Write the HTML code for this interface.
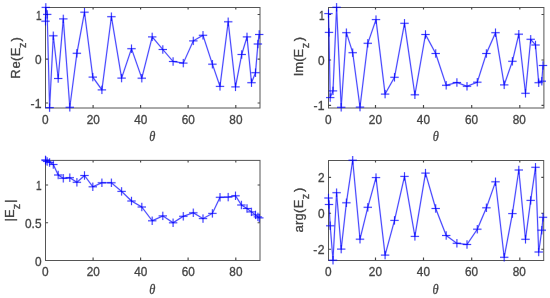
<!DOCTYPE html>
<html><head><meta charset="utf-8"><title>E_z plots</title>
<style>
html,body{margin:0;padding:0;background:#fff;}
svg{display:block;}
text{font-family:"Liberation Sans",sans-serif;font-size:12.2px;fill:#444444;stroke:#444444;stroke-width:0.32px;}
text.yl{font-size:13px;stroke-width:0.32px;}
text.yl .sub{font-size:11px;}
text.th{font-family:"Liberation Serif","DejaVu Serif",serif;font-style:italic;font-size:13.8px;stroke-width:0.28px;}
</style></head>
<body>
<svg width="550" height="298" viewBox="0 0 550 298">
<rect x="0" y="0" width="550" height="298" fill="#fff"/>
<rect x="45.5" y="7.5" width="214.5" height="100.5" fill="#fff" stroke="#555555" stroke-width="1"/>
<path d="M93.1 108.0v-3M93.1 7.5v2.1M140.6 108.0v-3M140.6 7.5v2.1M188.1 108.0v-3M188.1 7.5v2.1M235.8 108.0v-3M235.8 7.5v2.1M45.5 14.5h2.6M260.0 14.5h-2.4M45.5 59.1h2.6M260.0 59.1h-2.4M45.5 103.0h2.6M260.0 103.0h-2.4" stroke="#484848" stroke-width="1.15" fill="none"/>
<text x="45.2" y="123.5" text-anchor="middle" textLength="6.6" lengthAdjust="spacingAndGlyphs">0</text>
<text x="93.2" y="123.5" text-anchor="middle" textLength="13.1" lengthAdjust="spacingAndGlyphs">20</text>
<text x="140.7" y="123.5" text-anchor="middle" textLength="13.1" lengthAdjust="spacingAndGlyphs">40</text>
<text x="188.2" y="123.5" text-anchor="middle" textLength="13.1" lengthAdjust="spacingAndGlyphs">60</text>
<text x="235.9" y="123.5" text-anchor="middle" textLength="13.1" lengthAdjust="spacingAndGlyphs">80</text>
<text x="41.5" y="19.5" text-anchor="end" textLength="5.6" lengthAdjust="spacingAndGlyphs">1</text>
<text x="41.5" y="63.7" text-anchor="end" textLength="6.6" lengthAdjust="spacingAndGlyphs">0</text>
<text x="41.5" y="107.7" text-anchor="end" textLength="11.0" lengthAdjust="spacing">-1</text>
<text class="th" transform="translate(152.2,141.2) scale(0.9,1)" text-anchor="middle">θ</text>
<polyline points="45.5,21.2 45.8,7.4 47.2,14.4 49.6,107.6 53.3,35.8 58.2,78.5 63.3,18.9 69.8,107.3 76.9,53.3 84.5,12.2 92.8,77.1 101.9,89.9 111.4,16.7 121.6,78.1 131.5,48.7 141.8,78.2 152.2,36.9 162.8,49.5 173.1,61.5 183.3,63.1 193.3,40.9 203.0,35.3 212.4,64.2 220.0,86.4 228.2,21.8 235.5,86.9 241.7,54.5 247.0,36.9 251.5,82.7 255.5,72.7 257.9,44.0 259.2,34.5" fill="none" stroke="#00f" stroke-opacity="0.15" stroke-width="1.9" stroke-linejoin="round"/>
<polyline points="45.5,21.2 45.8,7.4 47.2,14.4 49.6,107.6 53.3,35.8 58.2,78.5 63.3,18.9 69.8,107.3 76.9,53.3 84.5,12.2 92.8,77.1 101.9,89.9 111.4,16.7 121.6,78.1 131.5,48.7 141.8,78.2 152.2,36.9 162.8,49.5 173.1,61.5 183.3,63.1 193.3,40.9 203.0,35.3 212.4,64.2 220.0,86.4 228.2,21.8 235.5,86.9 241.7,54.5 247.0,36.9 251.5,82.7 255.5,72.7 257.9,44.0 259.2,34.5" fill="none" stroke="#00f" stroke-opacity="0.68" stroke-width="1.05" stroke-linejoin="round"/>
<path d="M41.3 21.2h8.4M45.5 17.0v8.4M41.6 7.4h8.4M45.8 3.2v8.4M43.0 14.4h8.4M47.2 10.2v8.4M45.4 107.6h8.4M49.6 103.4v8.4M49.1 35.8h8.4M53.3 31.6v8.4M54.0 78.5h8.4M58.2 74.3v8.4M59.1 18.9h8.4M63.3 14.7v8.4M65.6 107.3h8.4M69.8 103.1v8.4M72.7 53.3h8.4M76.9 49.1v8.4M80.3 12.2h8.4M84.5 8.0v8.4M88.6 77.1h8.4M92.8 72.9v8.4M97.7 89.9h8.4M101.9 85.7v8.4M107.2 16.7h8.4M111.4 12.5v8.4M117.4 78.1h8.4M121.6 73.9v8.4M127.3 48.7h8.4M131.5 44.5v8.4M137.6 78.2h8.4M141.8 74.0v8.4M148.0 36.9h8.4M152.2 32.7v8.4M158.6 49.5h8.4M162.8 45.3v8.4M168.9 61.5h8.4M173.1 57.3v8.4M179.1 63.1h8.4M183.3 58.9v8.4M189.1 40.9h8.4M193.3 36.7v8.4M198.8 35.3h8.4M203.0 31.1v8.4M208.2 64.2h8.4M212.4 60.0v8.4M215.8 86.4h8.4M220.0 82.2v8.4M224.0 21.8h8.4M228.2 17.6v8.4M231.3 86.9h8.4M235.5 82.7v8.4M237.5 54.5h8.4M241.7 50.3v8.4M242.8 36.9h8.4M247.0 32.7v8.4M247.3 82.7h8.4M251.5 78.5v8.4M251.3 72.7h8.4M255.5 68.5v8.4M253.7 44.0h8.4M257.9 39.8v8.4M255.0 34.5h8.4M259.2 30.3v8.4" stroke="#00f" stroke-opacity="0.15" stroke-width="1.9" fill="none"/>
<path d="M41.3 21.2h8.4M45.5 17.0v8.4M41.6 7.4h8.4M45.8 3.2v8.4M43.0 14.4h8.4M47.2 10.2v8.4M45.4 107.6h8.4M49.6 103.4v8.4M49.1 35.8h8.4M53.3 31.6v8.4M54.0 78.5h8.4M58.2 74.3v8.4M59.1 18.9h8.4M63.3 14.7v8.4M65.6 107.3h8.4M69.8 103.1v8.4M72.7 53.3h8.4M76.9 49.1v8.4M80.3 12.2h8.4M84.5 8.0v8.4M88.6 77.1h8.4M92.8 72.9v8.4M97.7 89.9h8.4M101.9 85.7v8.4M107.2 16.7h8.4M111.4 12.5v8.4M117.4 78.1h8.4M121.6 73.9v8.4M127.3 48.7h8.4M131.5 44.5v8.4M137.6 78.2h8.4M141.8 74.0v8.4M148.0 36.9h8.4M152.2 32.7v8.4M158.6 49.5h8.4M162.8 45.3v8.4M168.9 61.5h8.4M173.1 57.3v8.4M179.1 63.1h8.4M183.3 58.9v8.4M189.1 40.9h8.4M193.3 36.7v8.4M198.8 35.3h8.4M203.0 31.1v8.4M208.2 64.2h8.4M212.4 60.0v8.4M215.8 86.4h8.4M220.0 82.2v8.4M224.0 21.8h8.4M228.2 17.6v8.4M231.3 86.9h8.4M235.5 82.7v8.4M237.5 54.5h8.4M241.7 50.3v8.4M242.8 36.9h8.4M247.0 32.7v8.4M247.3 82.7h8.4M251.5 78.5v8.4M251.3 72.7h8.4M255.5 68.5v8.4M253.7 44.0h8.4M257.9 39.8v8.4M255.0 34.5h8.4M259.2 30.3v8.4" stroke="#00f" stroke-opacity="0.72" stroke-width="1.0" fill="none"/>
<text class="yl" dx="0 0.9 0.1 0.4" transform="translate(20.1,78.7) rotate(-90)">Re(E<tspan class="sub" dy="6.3" dx="-0.4">z</tspan><tspan dy="-6.3" dx="1.1">)</tspan></text>
<rect x="328.5" y="7.5" width="215.39999999999998" height="100.5" fill="#fff" stroke="#555555" stroke-width="1"/>
<path d="M375.5 108.0v-3M375.5 7.5v2.1M423.5 108.0v-3M423.5 7.5v2.1M471.7 108.0v-3M471.7 7.5v2.1M519.8 108.0v-3M519.8 7.5v2.1M328.5 14.5h2.6M543.9 14.5h-2.4M328.5 60.0h2.6M543.9 60.0h-2.4M328.5 105.3h2.6M543.9 105.3h-2.4" stroke="#484848" stroke-width="1.15" fill="none"/>
<text x="328.2" y="123.5" text-anchor="middle" textLength="6.6" lengthAdjust="spacingAndGlyphs">0</text>
<text x="375.4" y="123.5" text-anchor="middle" textLength="13.1" lengthAdjust="spacingAndGlyphs">20</text>
<text x="423.4" y="123.5" text-anchor="middle" textLength="13.1" lengthAdjust="spacingAndGlyphs">40</text>
<text x="471.5" y="123.5" text-anchor="middle" textLength="13.1" lengthAdjust="spacingAndGlyphs">60</text>
<text x="519.3" y="123.5" text-anchor="middle" textLength="13.1" lengthAdjust="spacingAndGlyphs">80</text>
<text x="324.5" y="19.5" text-anchor="end" textLength="5.6" lengthAdjust="spacingAndGlyphs">1</text>
<text x="324.5" y="65.0" text-anchor="end" textLength="6.6" lengthAdjust="spacingAndGlyphs">0</text>
<text x="324.5" y="109.7" text-anchor="end" textLength="11.0" lengthAdjust="spacing">-1</text>
<text class="th" transform="translate(435.7,141.2) scale(0.9,1)" text-anchor="middle">θ</text>
<polyline points="328.5,13.6 329.0,32.4 330.2,97.6 333.0,90.9 336.6,7.3 341.2,107.3 346.4,32.7 352.7,52.7 360.0,107.1 367.8,43.3 376.0,19.6 385.1,94.1 394.5,77.3 404.5,23.3 414.9,94.8 425.5,34.5 435.7,53.5 446.2,85.3 456.9,82.5 467.0,86.3 477.3,82.2 486.4,53.5 495.5,32.7 504.2,84.9 512.4,61.3 518.8,34.2 525.5,93.3 530.7,39.3 535.5,45.0 538.7,82.7 541.8,81.2 543.0,65.5" fill="none" stroke="#00f" stroke-opacity="0.15" stroke-width="1.9" stroke-linejoin="round"/>
<polyline points="328.5,13.6 329.0,32.4 330.2,97.6 333.0,90.9 336.6,7.3 341.2,107.3 346.4,32.7 352.7,52.7 360.0,107.1 367.8,43.3 376.0,19.6 385.1,94.1 394.5,77.3 404.5,23.3 414.9,94.8 425.5,34.5 435.7,53.5 446.2,85.3 456.9,82.5 467.0,86.3 477.3,82.2 486.4,53.5 495.5,32.7 504.2,84.9 512.4,61.3 518.8,34.2 525.5,93.3 530.7,39.3 535.5,45.0 538.7,82.7 541.8,81.2 543.0,65.5" fill="none" stroke="#00f" stroke-opacity="0.68" stroke-width="1.05" stroke-linejoin="round"/>
<path d="M324.3 13.6h8.4M328.5 9.4v8.4M324.8 32.4h8.4M329.0 28.2v8.4M326.0 97.6h8.4M330.2 93.4v8.4M328.8 90.9h8.4M333.0 86.7v8.4M332.4 7.3h8.4M336.6 3.1v8.4M337.0 107.3h8.4M341.2 103.1v8.4M342.2 32.7h8.4M346.4 28.5v8.4M348.5 52.7h8.4M352.7 48.5v8.4M355.8 107.1h8.4M360.0 102.9v8.4M363.6 43.3h8.4M367.8 39.1v8.4M371.8 19.6h8.4M376.0 15.4v8.4M380.9 94.1h8.4M385.1 89.9v8.4M390.3 77.3h8.4M394.5 73.1v8.4M400.3 23.3h8.4M404.5 19.1v8.4M410.7 94.8h8.4M414.9 90.6v8.4M421.3 34.5h8.4M425.5 30.3v8.4M431.5 53.5h8.4M435.7 49.3v8.4M442.0 85.3h8.4M446.2 81.1v8.4M452.7 82.5h8.4M456.9 78.3v8.4M462.8 86.3h8.4M467.0 82.1v8.4M473.1 82.2h8.4M477.3 78.0v8.4M482.2 53.5h8.4M486.4 49.3v8.4M491.3 32.7h8.4M495.5 28.5v8.4M500.0 84.9h8.4M504.2 80.7v8.4M508.2 61.3h8.4M512.4 57.1v8.4M514.6 34.2h8.4M518.8 30.0v8.4M521.3 93.3h8.4M525.5 89.1v8.4M526.5 39.3h8.4M530.7 35.1v8.4M531.3 45.0h8.4M535.5 40.8v8.4M534.5 82.7h8.4M538.7 78.5v8.4M537.6 81.2h8.4M541.8 77.0v8.4M538.8 65.5h8.4M543.0 61.3v8.4" stroke="#00f" stroke-opacity="0.15" stroke-width="1.9" fill="none"/>
<path d="M324.3 13.6h8.4M328.5 9.4v8.4M324.8 32.4h8.4M329.0 28.2v8.4M326.0 97.6h8.4M330.2 93.4v8.4M328.8 90.9h8.4M333.0 86.7v8.4M332.4 7.3h8.4M336.6 3.1v8.4M337.0 107.3h8.4M341.2 103.1v8.4M342.2 32.7h8.4M346.4 28.5v8.4M348.5 52.7h8.4M352.7 48.5v8.4M355.8 107.1h8.4M360.0 102.9v8.4M363.6 43.3h8.4M367.8 39.1v8.4M371.8 19.6h8.4M376.0 15.4v8.4M380.9 94.1h8.4M385.1 89.9v8.4M390.3 77.3h8.4M394.5 73.1v8.4M400.3 23.3h8.4M404.5 19.1v8.4M410.7 94.8h8.4M414.9 90.6v8.4M421.3 34.5h8.4M425.5 30.3v8.4M431.5 53.5h8.4M435.7 49.3v8.4M442.0 85.3h8.4M446.2 81.1v8.4M452.7 82.5h8.4M456.9 78.3v8.4M462.8 86.3h8.4M467.0 82.1v8.4M473.1 82.2h8.4M477.3 78.0v8.4M482.2 53.5h8.4M486.4 49.3v8.4M491.3 32.7h8.4M495.5 28.5v8.4M500.0 84.9h8.4M504.2 80.7v8.4M508.2 61.3h8.4M512.4 57.1v8.4M514.6 34.2h8.4M518.8 30.0v8.4M521.3 93.3h8.4M525.5 89.1v8.4M526.5 39.3h8.4M530.7 35.1v8.4M531.3 45.0h8.4M535.5 40.8v8.4M534.5 82.7h8.4M538.7 78.5v8.4M537.6 81.2h8.4M541.8 77.0v8.4M538.8 65.5h8.4M543.0 61.3v8.4" stroke="#00f" stroke-opacity="0.72" stroke-width="1.0" fill="none"/>
<text class="yl" transform="translate(303.1,76.3) rotate(-90)">Im(E<tspan class="sub" dy="6.3" dx="0.5">z</tspan><tspan dy="-6.3" dx="1.7">)</tspan></text>
<rect x="45.5" y="160.4" width="214.5" height="100.1" fill="#fff" stroke="#555555" stroke-width="1"/>
<path d="M93.1 260.5v-3M93.1 160.4v2.1M140.6 260.5v-3M140.6 160.4v2.1M188.1 260.5v-3M188.1 160.4v2.1M235.8 260.5v-3M235.8 160.4v2.1M45.5 185.0h2.6M260.0 185.0h-2.4M45.5 222.7h2.6M260.0 222.7h-2.4" stroke="#484848" stroke-width="1.15" fill="none"/>
<text x="45.2" y="276.4" text-anchor="middle" textLength="6.6" lengthAdjust="spacingAndGlyphs">0</text>
<text x="93.2" y="276.4" text-anchor="middle" textLength="13.1" lengthAdjust="spacingAndGlyphs">20</text>
<text x="140.7" y="276.4" text-anchor="middle" textLength="13.1" lengthAdjust="spacingAndGlyphs">40</text>
<text x="188.2" y="276.4" text-anchor="middle" textLength="13.1" lengthAdjust="spacingAndGlyphs">60</text>
<text x="235.9" y="276.4" text-anchor="middle" textLength="13.1" lengthAdjust="spacingAndGlyphs">80</text>
<text x="41.5" y="190.0" text-anchor="end" textLength="5.6" lengthAdjust="spacingAndGlyphs">1</text>
<text x="41.5" y="227.7" text-anchor="end" textLength="16.5" lengthAdjust="spacingAndGlyphs">0.5</text>
<text x="41.5" y="265.5" text-anchor="end" textLength="6.6" lengthAdjust="spacingAndGlyphs">0</text>
<text class="th" transform="translate(152.2,294.1) scale(0.9,1)" text-anchor="middle">θ</text>
<polyline points="45.5,159.9 45.8,160.6 47.2,161.5 49.6,162.5 53.3,164.5 58.2,175.0 63.3,178.3 69.8,177.7 76.9,182.3 84.5,175.5 92.8,186.8 101.9,182.8 111.4,182.8 121.6,191.4 131.5,201.0 141.8,207.0 152.2,220.8 162.8,215.9 173.1,222.8 183.3,216.3 193.3,212.8 203.0,218.6 212.4,213.4 220.0,197.3 228.2,197.1 235.5,195.8 241.4,205.0 247.0,208.5 251.4,211.9 255.5,214.9 257.9,216.9 259.3,217.9" fill="none" stroke="#00f" stroke-opacity="0.15" stroke-width="1.9" stroke-linejoin="round"/>
<polyline points="45.5,159.9 45.8,160.6 47.2,161.5 49.6,162.5 53.3,164.5 58.2,175.0 63.3,178.3 69.8,177.7 76.9,182.3 84.5,175.5 92.8,186.8 101.9,182.8 111.4,182.8 121.6,191.4 131.5,201.0 141.8,207.0 152.2,220.8 162.8,215.9 173.1,222.8 183.3,216.3 193.3,212.8 203.0,218.6 212.4,213.4 220.0,197.3 228.2,197.1 235.5,195.8 241.4,205.0 247.0,208.5 251.4,211.9 255.5,214.9 257.9,216.9 259.3,217.9" fill="none" stroke="#00f" stroke-opacity="0.68" stroke-width="1.05" stroke-linejoin="round"/>
<path d="M41.3 159.9h8.4M45.5 155.7v8.4M41.6 160.6h8.4M45.8 156.4v8.4M43.0 161.5h8.4M47.2 157.3v8.4M45.4 162.5h8.4M49.6 158.3v8.4M49.1 164.5h8.4M53.3 160.3v8.4M54.0 175.0h8.4M58.2 170.8v8.4M59.1 178.3h8.4M63.3 174.1v8.4M65.6 177.7h8.4M69.8 173.5v8.4M72.7 182.3h8.4M76.9 178.1v8.4M80.3 175.5h8.4M84.5 171.3v8.4M88.6 186.8h8.4M92.8 182.6v8.4M97.7 182.8h8.4M101.9 178.6v8.4M107.2 182.8h8.4M111.4 178.6v8.4M117.4 191.4h8.4M121.6 187.2v8.4M127.3 201.0h8.4M131.5 196.8v8.4M137.6 207.0h8.4M141.8 202.8v8.4M148.0 220.8h8.4M152.2 216.6v8.4M158.6 215.9h8.4M162.8 211.7v8.4M168.9 222.8h8.4M173.1 218.6v8.4M179.1 216.3h8.4M183.3 212.1v8.4M189.1 212.8h8.4M193.3 208.6v8.4M198.8 218.6h8.4M203.0 214.4v8.4M208.2 213.4h8.4M212.4 209.2v8.4M215.8 197.3h8.4M220.0 193.1v8.4M224.0 197.1h8.4M228.2 192.9v8.4M231.3 195.8h8.4M235.5 191.6v8.4M237.2 205.0h8.4M241.4 200.8v8.4M242.8 208.5h8.4M247.0 204.3v8.4M247.2 211.9h8.4M251.4 207.7v8.4M251.3 214.9h8.4M255.5 210.7v8.4M253.7 216.9h8.4M257.9 212.7v8.4M255.1 217.9h8.4M259.3 213.7v8.4" stroke="#00f" stroke-opacity="0.15" stroke-width="1.9" fill="none"/>
<path d="M41.3 159.9h8.4M45.5 155.7v8.4M41.6 160.6h8.4M45.8 156.4v8.4M43.0 161.5h8.4M47.2 157.3v8.4M45.4 162.5h8.4M49.6 158.3v8.4M49.1 164.5h8.4M53.3 160.3v8.4M54.0 175.0h8.4M58.2 170.8v8.4M59.1 178.3h8.4M63.3 174.1v8.4M65.6 177.7h8.4M69.8 173.5v8.4M72.7 182.3h8.4M76.9 178.1v8.4M80.3 175.5h8.4M84.5 171.3v8.4M88.6 186.8h8.4M92.8 182.6v8.4M97.7 182.8h8.4M101.9 178.6v8.4M107.2 182.8h8.4M111.4 178.6v8.4M117.4 191.4h8.4M121.6 187.2v8.4M127.3 201.0h8.4M131.5 196.8v8.4M137.6 207.0h8.4M141.8 202.8v8.4M148.0 220.8h8.4M152.2 216.6v8.4M158.6 215.9h8.4M162.8 211.7v8.4M168.9 222.8h8.4M173.1 218.6v8.4M179.1 216.3h8.4M183.3 212.1v8.4M189.1 212.8h8.4M193.3 208.6v8.4M198.8 218.6h8.4M203.0 214.4v8.4M208.2 213.4h8.4M212.4 209.2v8.4M215.8 197.3h8.4M220.0 193.1v8.4M224.0 197.1h8.4M228.2 192.9v8.4M231.3 195.8h8.4M235.5 191.6v8.4M237.2 205.0h8.4M241.4 200.8v8.4M242.8 208.5h8.4M247.0 204.3v8.4M247.2 211.9h8.4M251.4 207.7v8.4M251.3 214.9h8.4M255.5 210.7v8.4M253.7 216.9h8.4M257.9 212.7v8.4M255.1 217.9h8.4M259.3 213.7v8.4" stroke="#00f" stroke-opacity="0.72" stroke-width="1.0" fill="none"/>
<text class="yl" transform="translate(13.9,221.4) rotate(-90)">|E<tspan class="sub" dy="6.3" dx="0.1">z</tspan><tspan dy="-6.3" dx="0.7">|</tspan></text>
<rect x="328.5" y="160.5" width="215.20000000000005" height="100.0" fill="#fff" stroke="#555555" stroke-width="1"/>
<path d="M375.5 260.5v-3M375.5 160.5v2.1M423.5 260.5v-3M423.5 160.5v2.1M471.7 260.5v-3M471.7 160.5v2.1M519.8 260.5v-3M519.8 160.5v2.1M328.5 177.3h2.6M543.7 177.3h-2.4M328.5 213.2h2.6M543.7 213.2h-2.4M328.5 249.2h2.6M543.7 249.2h-2.4" stroke="#484848" stroke-width="1.15" fill="none"/>
<text x="328.2" y="276.4" text-anchor="middle" textLength="6.6" lengthAdjust="spacingAndGlyphs">0</text>
<text x="375.4" y="276.4" text-anchor="middle" textLength="13.1" lengthAdjust="spacingAndGlyphs">20</text>
<text x="423.4" y="276.4" text-anchor="middle" textLength="13.1" lengthAdjust="spacingAndGlyphs">40</text>
<text x="471.5" y="276.4" text-anchor="middle" textLength="13.1" lengthAdjust="spacingAndGlyphs">60</text>
<text x="519.3" y="276.4" text-anchor="middle" textLength="13.1" lengthAdjust="spacingAndGlyphs">80</text>
<text x="324.5" y="182.29999999999998" text-anchor="end" textLength="6.6" lengthAdjust="spacingAndGlyphs">2</text>
<text x="324.5" y="218.2" text-anchor="end" textLength="6.6" lengthAdjust="spacingAndGlyphs">0</text>
<text x="324.5" y="253.89999999999998" text-anchor="end" textLength="11.3" lengthAdjust="spacing">-2</text>
<text class="th" transform="translate(435.6,294.1) scale(0.9,1)" text-anchor="middle">θ</text>
<polyline points="328.5,198.0 329.0,204.5 330.2,225.8 333.0,260.2 336.6,192.7 341.2,249.1 346.4,202.8 352.7,160.2 360.0,239.2 367.8,207.3 376.0,177.6 385.1,255.1 394.5,220.4 404.5,176.4 414.9,236.4 425.5,173.1 435.7,208.5 446.2,235.5 456.9,243.3 467.0,244.5 477.3,229.2 486.4,207.8 495.5,181.8 504.2,257.3 512.4,213.6 518.8,170.0 525.5,239.3 530.7,200.4 535.5,167.3 538.7,252.0 541.8,230.2 543.0,217.3" fill="none" stroke="#00f" stroke-opacity="0.15" stroke-width="1.9" stroke-linejoin="round"/>
<polyline points="328.5,198.0 329.0,204.5 330.2,225.8 333.0,260.2 336.6,192.7 341.2,249.1 346.4,202.8 352.7,160.2 360.0,239.2 367.8,207.3 376.0,177.6 385.1,255.1 394.5,220.4 404.5,176.4 414.9,236.4 425.5,173.1 435.7,208.5 446.2,235.5 456.9,243.3 467.0,244.5 477.3,229.2 486.4,207.8 495.5,181.8 504.2,257.3 512.4,213.6 518.8,170.0 525.5,239.3 530.7,200.4 535.5,167.3 538.7,252.0 541.8,230.2 543.0,217.3" fill="none" stroke="#00f" stroke-opacity="0.68" stroke-width="1.05" stroke-linejoin="round"/>
<path d="M324.3 198.0h8.4M328.5 193.8v8.4M324.8 204.5h8.4M329.0 200.3v8.4M326.0 225.8h8.4M330.2 221.6v8.4M328.8 260.2h8.4M333.0 256.0v8.4M332.4 192.7h8.4M336.6 188.5v8.4M337.0 249.1h8.4M341.2 244.9v8.4M342.2 202.8h8.4M346.4 198.6v8.4M348.5 160.2h8.4M352.7 156.0v8.4M355.8 239.2h8.4M360.0 235.0v8.4M363.6 207.3h8.4M367.8 203.1v8.4M371.8 177.6h8.4M376.0 173.4v8.4M380.9 255.1h8.4M385.1 250.9v8.4M390.3 220.4h8.4M394.5 216.2v8.4M400.3 176.4h8.4M404.5 172.2v8.4M410.7 236.4h8.4M414.9 232.2v8.4M421.3 173.1h8.4M425.5 168.9v8.4M431.5 208.5h8.4M435.7 204.3v8.4M442.0 235.5h8.4M446.2 231.3v8.4M452.7 243.3h8.4M456.9 239.1v8.4M462.8 244.5h8.4M467.0 240.3v8.4M473.1 229.2h8.4M477.3 225.0v8.4M482.2 207.8h8.4M486.4 203.6v8.4M491.3 181.8h8.4M495.5 177.6v8.4M500.0 257.3h8.4M504.2 253.1v8.4M508.2 213.6h8.4M512.4 209.4v8.4M514.6 170.0h8.4M518.8 165.8v8.4M521.3 239.3h8.4M525.5 235.1v8.4M526.5 200.4h8.4M530.7 196.2v8.4M531.3 167.3h8.4M535.5 163.1v8.4M534.5 252.0h8.4M538.7 247.8v8.4M537.6 230.2h8.4M541.8 226.0v8.4M538.8 217.3h8.4M543.0 213.1v8.4" stroke="#00f" stroke-opacity="0.15" stroke-width="1.9" fill="none"/>
<path d="M324.3 198.0h8.4M328.5 193.8v8.4M324.8 204.5h8.4M329.0 200.3v8.4M326.0 225.8h8.4M330.2 221.6v8.4M328.8 260.2h8.4M333.0 256.0v8.4M332.4 192.7h8.4M336.6 188.5v8.4M337.0 249.1h8.4M341.2 244.9v8.4M342.2 202.8h8.4M346.4 198.6v8.4M348.5 160.2h8.4M352.7 156.0v8.4M355.8 239.2h8.4M360.0 235.0v8.4M363.6 207.3h8.4M367.8 203.1v8.4M371.8 177.6h8.4M376.0 173.4v8.4M380.9 255.1h8.4M385.1 250.9v8.4M390.3 220.4h8.4M394.5 216.2v8.4M400.3 176.4h8.4M404.5 172.2v8.4M410.7 236.4h8.4M414.9 232.2v8.4M421.3 173.1h8.4M425.5 168.9v8.4M431.5 208.5h8.4M435.7 204.3v8.4M442.0 235.5h8.4M446.2 231.3v8.4M452.7 243.3h8.4M456.9 239.1v8.4M462.8 244.5h8.4M467.0 240.3v8.4M473.1 229.2h8.4M477.3 225.0v8.4M482.2 207.8h8.4M486.4 203.6v8.4M491.3 181.8h8.4M495.5 177.6v8.4M500.0 257.3h8.4M504.2 253.1v8.4M508.2 213.6h8.4M512.4 209.4v8.4M514.6 170.0h8.4M518.8 165.8v8.4M521.3 239.3h8.4M525.5 235.1v8.4M526.5 200.4h8.4M530.7 196.2v8.4M531.3 167.3h8.4M535.5 163.1v8.4M534.5 252.0h8.4M538.7 247.8v8.4M537.6 230.2h8.4M541.8 226.0v8.4M538.8 217.3h8.4M543.0 213.1v8.4" stroke="#00f" stroke-opacity="0.72" stroke-width="1.0" fill="none"/>
<text class="yl" dx="0 0.25 0.25 0.25 0.25" transform="translate(303.1,232.5) rotate(-90)">arg(E<tspan class="sub" dy="6.3" dx="0.5">z</tspan><tspan dy="-6.3" dx="1.7">)</tspan></text>
</svg>
</body></html>
